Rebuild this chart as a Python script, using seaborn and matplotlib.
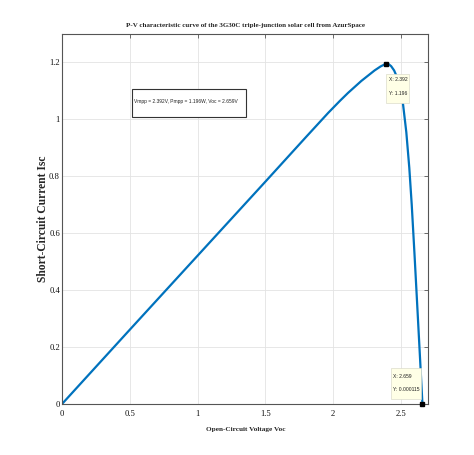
import numpy as np
import pandas as pd
import matplotlib
matplotlib.use("Agg")
import matplotlib.pyplot as plt
import seaborn as sns
from matplotlib.patches import Rectangle
from matplotlib.transforms import IdentityTransform, ScaledTranslation

# ---- data ----
voltage = [0, 0.5, 1.0, 1.5, 1.8, 1.964, 2.05, 2.11, 2.208, 2.306, 2.35,
           2.392, 2.41, 2.428, 2.45, 2.477, 2.513, 2.54, 2.562, 2.58, 2.60,
           2.618, 2.638, 2.659]
power = [0, 0.261, 0.521, 0.781, 0.938, 1.023, 1.065, 1.093, 1.135, 1.172,
         1.186, 1.196, 1.194, 1.187, 1.172, 1.142, 1.065, 0.955, 0.83, 0.70,
         0.53, 0.37, 0.19, 0.000115]
tip_x = [2.392, 2.659]
tip_y = [1.196, 0.000115]
tip_lines = [["X: 2.392", "Y: 1.196"], ["X: 2.659", "Y: 0.000115"]]
x_ticks = [0, 0.5, 1, 1.5, 2, 2.5]
x_tick_labels = ["0", "0.5", "1", "1.5", "2", "2.5"]
y_ticks = [0, 0.2, 0.4, 0.6, 0.8, 1.0, 1.2]
y_tick_labels = ["0", "0.2", "0.4", "0.6", "0.8", "1", "1.2"]
title = "P-V characteristic curve of the 3G30C triple-junction solar cell from AzurSpace"
x_label = "Open-Circuit Voltage Voc"
y_label = "Short-Circuit Current Isc"
box_text = "Vmpp = 2.392V, Pmpp = 1.196W, Voc = 2.659V"

df = pd.DataFrame({"V": voltage, "P": power})

sns.set_theme(style="white")
plt.rcParams["font.family"] = ["Liberation Serif", "DejaVu Serif"]
sans = ["Liberation Sans", "DejaVu Sans"]

fig = plt.figure(figsize=(4.74, 4.55), dpi=100)
ax = fig.add_axes([62 / 474, 51 / 455, 366 / 474, 370 / 455])

sns.lineplot(data=df, x="V", y="P", ax=ax, sort=False, color="#0072BD",
             linewidth=1.6, estimator=None)

ax.set_xlim(0, 2.7)
ax.set_ylim(0, 1.3)
ax.set_xticks(x_ticks)
ax.set_xticklabels(x_tick_labels)
ax.set_yticks(y_ticks)
ax.set_yticklabels(y_tick_labels)
ax.grid(True, color="#e3e3e3", linewidth=0.6)
ax.set_axisbelow(True)
for s in ax.spines.values():
    s.set_visible(True)
    s.set_color("#555555")
    s.set_linewidth(0.8)
ax.tick_params(direction="in", length=3, width=0.6, color="#555555",
               top=True, right=True, labelsize=6.2, pad=4,
               labelcolor="#111111")
ax.tick_params(axis="y", pad=1.5)

xl = ax.set_xlabel(x_label, fontsize=6, fontweight="bold")
yl = ax.set_ylabel(y_label, fontsize=8.3, fontweight="bold")
ax.xaxis.set_label_coords(0.501, -0.062)
ax.yaxis.set_label_coords(-0.036, 0.5)
tt = ax.set_title(title, fontsize=5.8, fontweight="bold", pad=5)

# data tip markers and boxes
ax.plot(tip_x, tip_y, linestyle="none", marker="s", color="black",
        markersize=3.5, clip_on=False, zorder=5)
# pixel geometry of each tip box relative to its point
box_geom = [(0, -39, 23, 29, 3, [-16, -30]),
            (-31.5, 5.3, 30, 31, 2, [27, 14])]
for x, y, lines, (bx, by, bw, bh, tx, tys) in zip(tip_x, tip_y, tip_lines, box_geom):
    tr = IdentityTransform() + ScaledTranslation(x, y, ax.transData)
    ax.add_patch(Rectangle((bx, by), bw, bh, transform=tr, facecolor="#FFFFE6",
                           edgecolor="#dcdccc", linewidth=0.5, zorder=6,
                           clip_on=False))
    for line, ty in zip(lines, tys):
        ax.text(bx + tx, ty, line, transform=tr, ha="left", va="center",
                fontsize=3.6, family=sans, color="#222222", zorder=7,
                clip_on=False)

# annotation text box
ax.add_patch(Rectangle((0.191, 0.776), 0.312, 0.075, transform=ax.transAxes,
                       facecolor="white", edgecolor="#333333", linewidth=0.8,
                       zorder=4))
bt = ax.text(0.197, 0.818, box_text, transform=ax.transAxes, ha="left",
             va="center", fontsize=3.5, family=sans, color="#222222", zorder=5)

# fit text widths to the reference layout
fig.canvas.draw()
r = fig.canvas.get_renderer()
for art, target in [(tt, 238), (xl, 80), (bt, 103)]:
    bb = art.get_window_extent(r)
    art.set_fontsize(art.get_fontsize() * target / bb.width)

fig.savefig("out.png", dpi=100, facecolor="white")
